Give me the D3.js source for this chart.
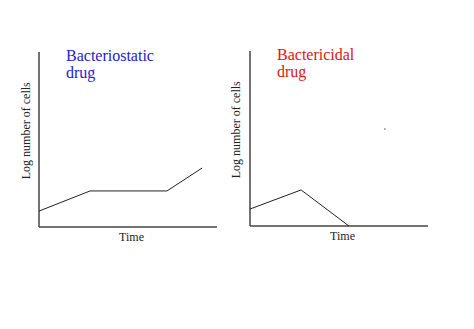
<!DOCTYPE html>
<html>
<head>
<meta charset="utf-8">
<script src="https://cdn.jsdelivr.net/npm/d3@7"></script>
<style>
  body { margin: 0; background: #fff; }
  svg { display: block; }
</style>
</head>
<body>
<div id="chart"></div>
<script>
// Données (unités arbitraires, 0..10)
const staticTime = [0, 2.87, 7.19, 9.16];
const staticCells = [0.91, 2.06, 2.06, 3.37];
const cidalTime = [0, 2.87, 5.56];
const cidalCells = [0.97, 2.06, 0];
const strayDot = [7.58, 5.54];

const serif = "Liberation Serif";

const panels = [
  { title: ["Bacteriostatic", "drug"], color: "#2222cc", left: 39, bottom: 227,
    time: staticTime, cells: staticCells, labelX: -9, titleX: 27 },
  { title: ["Bactericidal", "drug"], color: "#dd1515", left: 250, bottom: 226,
    time: cidalTime, cells: cidalCells, labelX: -10, titleX: 27 }
];

const width = 474;
const height = 329;

const x = d3.scaleLinear().domain([0, 10]).range([0, 178]);
const y = d3.scaleLinear().domain([0, 10]).range([0, -175]);

const svg = d3.select("#chart").append("svg")
    .attr("width", width)
    .attr("height", height)
    .attr("viewBox", [0, 0, width, height]);

const line = d3.line()
    .x(d => x(d[0]))
    .y(d => y(d[1]));

panels.forEach(p => {
    const g = svg.append("g")
        .attr("transform", `translate(${p.left},${p.bottom})`);

    // Axes (sans graduations)
    g.append("line")
        .attr("x1", 0).attr("y1", 0)
        .attr("x2", x(10)).attr("y2", 0)
        .attr("stroke", "#444").attr("stroke-width", 1.5);
    g.append("line")
        .attr("x1", 0).attr("y1", 0)
        .attr("x2", 0).attr("y2", y(10))
        .attr("stroke", "#444").attr("stroke-width", 1.5);

    // Courbe
    g.append("path")
        .datum(p.time.map((t, k) => [t, p.cells[k]]))
        .attr("d", line)
        .attr("fill", "none")
        .attr("stroke", "#222")
        .attr("stroke-width", 1);

    // Titre
    g.append("text")
        .attr("x", p.titleX)
        .attr("y", y(10) + 9)
        .attr("fill", p.color)
        .style("font-family", serif)
        .style("font-size", "16px")
        .selectAll("tspan")
        .data(p.title)
        .join("tspan")
        .attr("x", p.titleX)
        .attr("dy", (d, k) => k === 0 ? 0 : 16.5)
        .style("font-family", serif)
        .text(d => d);

    // Étiquettes des axes
    g.append("text")
        .attr("transform", `translate(${p.labelX},${y(5.5)}) rotate(-90)`)
        .attr("text-anchor", "middle")
        .style("font-family", serif)
        .style("font-size", "12px")
        .attr("fill", "#222")
        .text("Log number of cells");

    g.append("text")
        .attr("x", x(5.2))
        .attr("y", 14)
        .attr("text-anchor", "middle")
        .style("font-family", serif)
        .style("font-size", "12px")
        .attr("fill", "#222")
        .text("Time");
});

// Petit point isolé dans le panneau de droite
svg.append("circle")
    .attr("cx", panels[1].left + x(strayDot[0]))
    .attr("cy", panels[1].bottom + y(strayDot[1]))
    .attr("r", 0.8)
    .attr("fill", "#555");
</script>
</body>
</html>
